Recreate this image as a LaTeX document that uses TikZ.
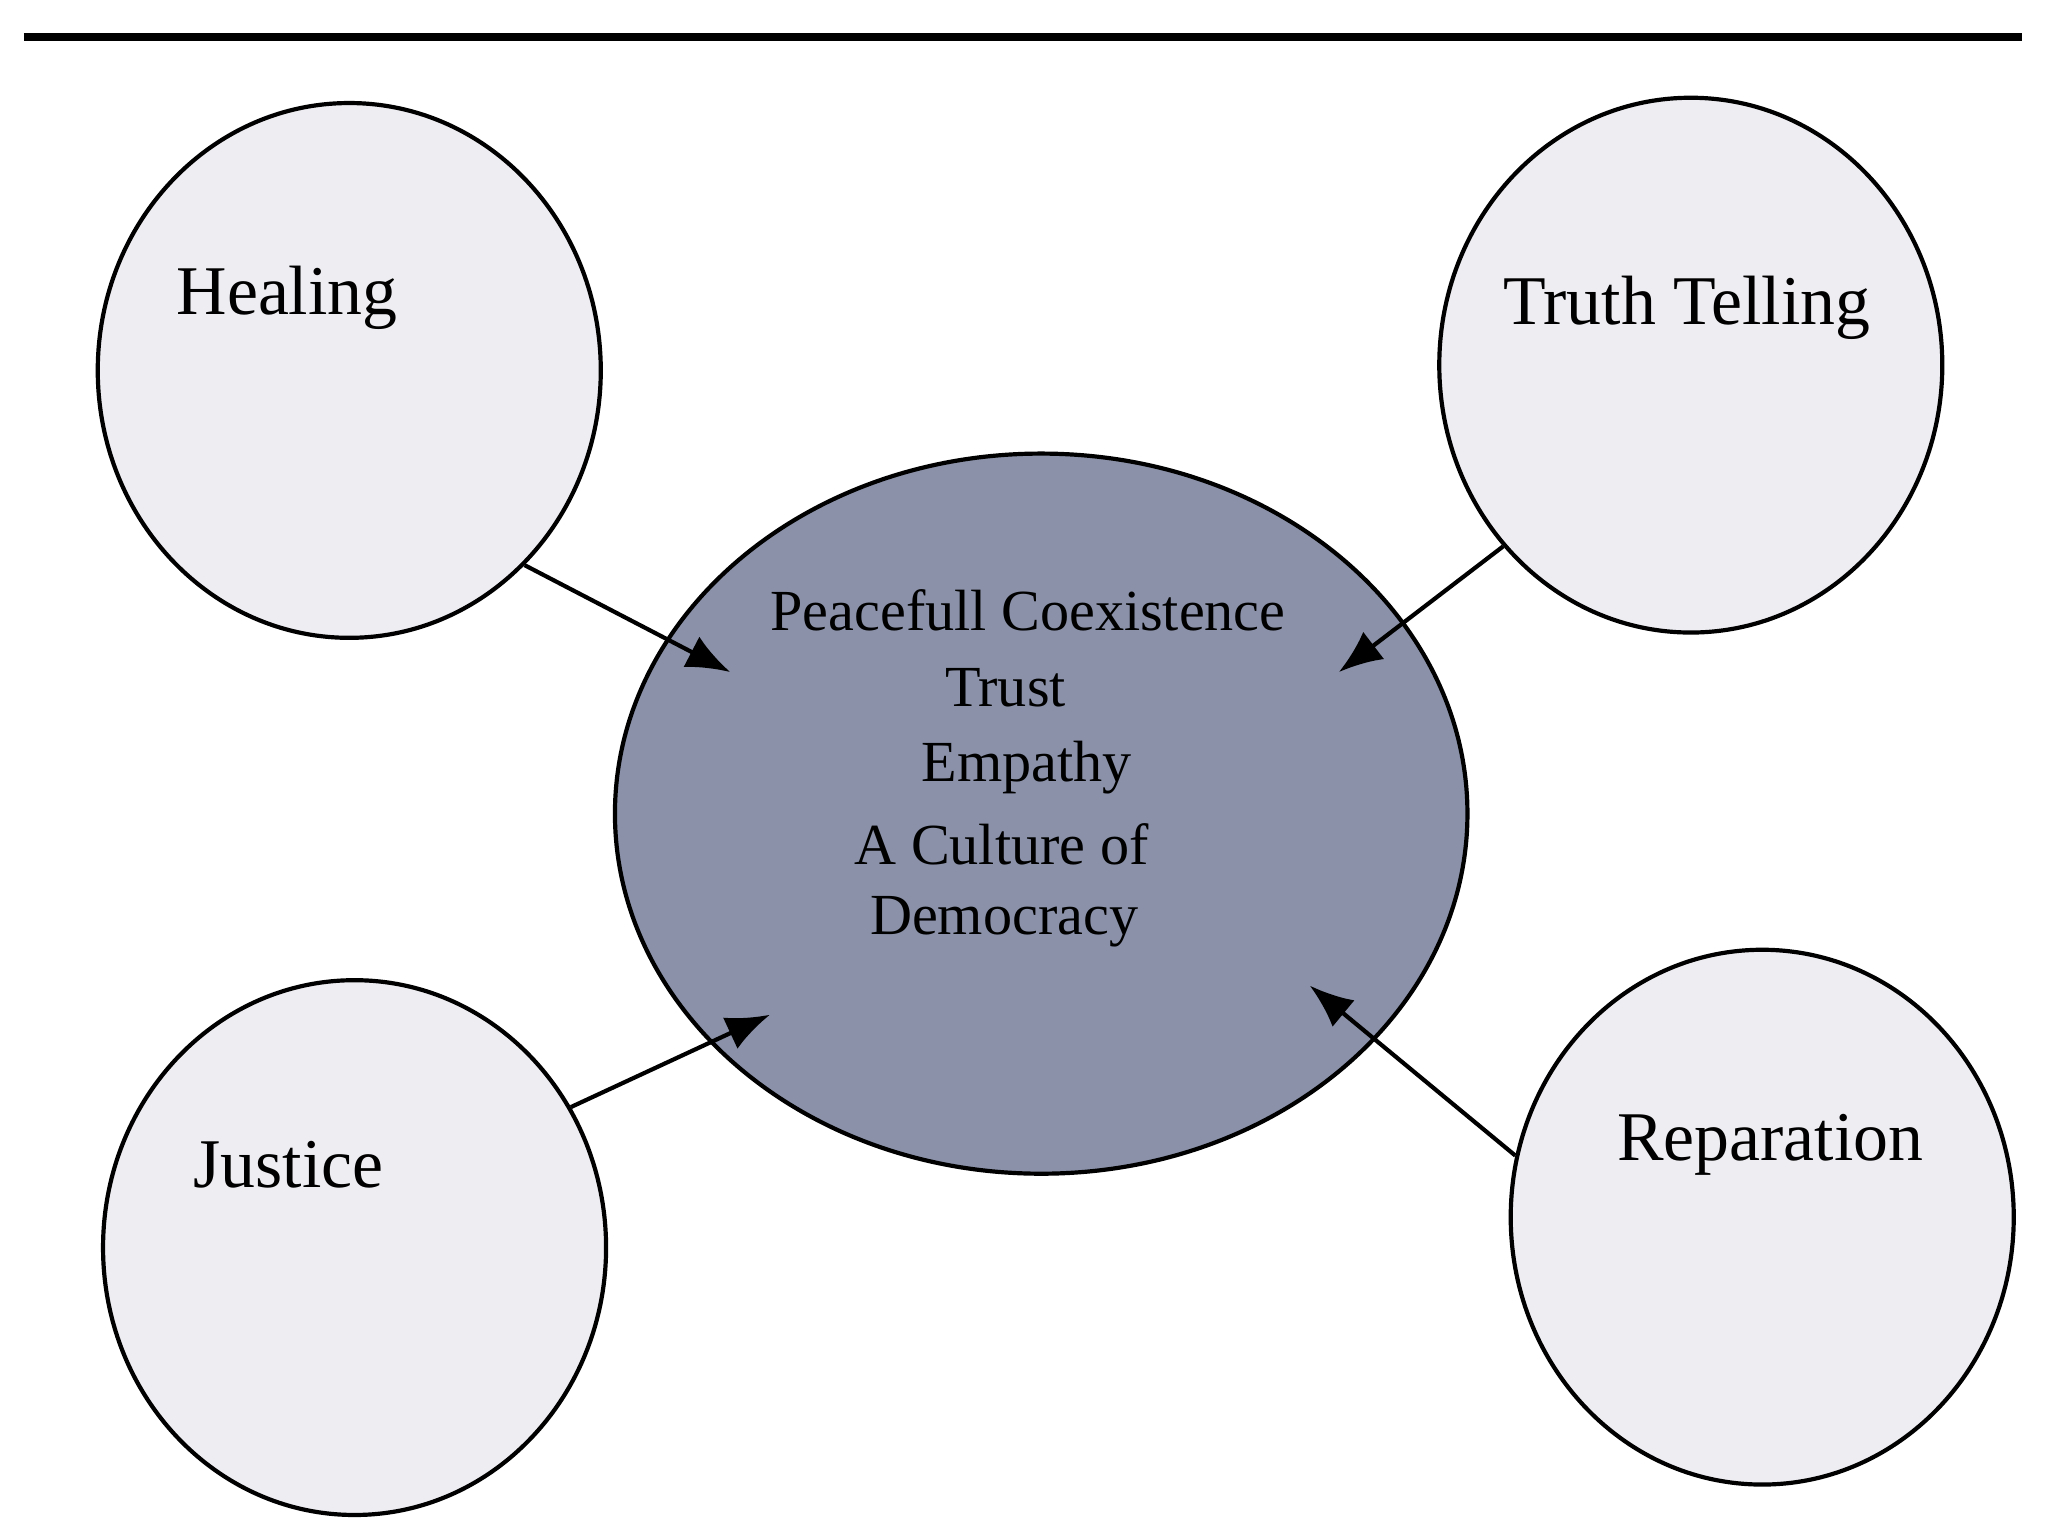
\documentclass[tikz,border=0pt]{standalone}
\usepackage{fontspec}
\setmainfont{Liberation Serif}
\usetikzlibrary{shapes.geometric,arrows.meta}
\definecolor{outer}{HTML}{EDEDF2}
\definecolor{core}{HTML}{8A91A8}
\tikzset{
  bubble/.style={ellipse,draw,line width=0.9pt,fill=outer,inner sep=0pt,
    minimum width=3.8cm,minimum height=4.04cm},
  big/.style={font=\fontsize{15}{18}\selectfont},
  mid/.style={font=\fontsize{12.5}{15}\selectfont},
  link/.style={line width=0.9pt,-{Latex[length=3.3mm,width=2.6mm]}}
}
\begin{document}
\begin{tikzpicture}[x=0.01cm,y=-0.01cm]
\useasboundingbox (0,0) rectangle (1548,1161);
\draw[line width=1.6pt] (18,28) -- (1528,28);
% centre
\node[ellipse,draw,line width=0.9pt,fill=core,inner sep=0pt,
  minimum width=6.44cm,minimum height=5.44cm] (c) at (787,615) {};
\node[mid] (t1) at (777,461) {Peacefull Coexistence};
\node[mid] (t2) at (760,520) {Trust};
\node[mid] (t3) at (776,580) {Empathy};
\node[mid] (t4) at (757,638) {A Culture of};
\node[mid] (t5) at (759,697) {Democracy};
% outer circles
\node[bubble] (h) at (264,280) {};
\node[bubble] (tt) at (1278,276) {};
\node[bubble] (j) at (268,943) {};
\node[bubble] (r) at (1332,920) {};
\node[big] (hl) at (217,225) {Healing};
\node[big] (ttl) at (1275,233) {Truth Telling};
\node[big] (jl) at (218,880) {Justice};
\node[big] (rl) at (1338,865) {Reparation};
% arrow ends
\coordinate (eh) at (552,508);
\coordinate (ett) at (1012,508);
\coordinate (ej) at (582,767);
\coordinate (er) at (990,745);
\draw[link] (h.-48) -- (eh);
\draw[link] (tt.224) -- (ett);
\draw[link] (j.33) -- (ej);
\draw[link] (r.166) -- (er);
\end{tikzpicture}
\end{document}
